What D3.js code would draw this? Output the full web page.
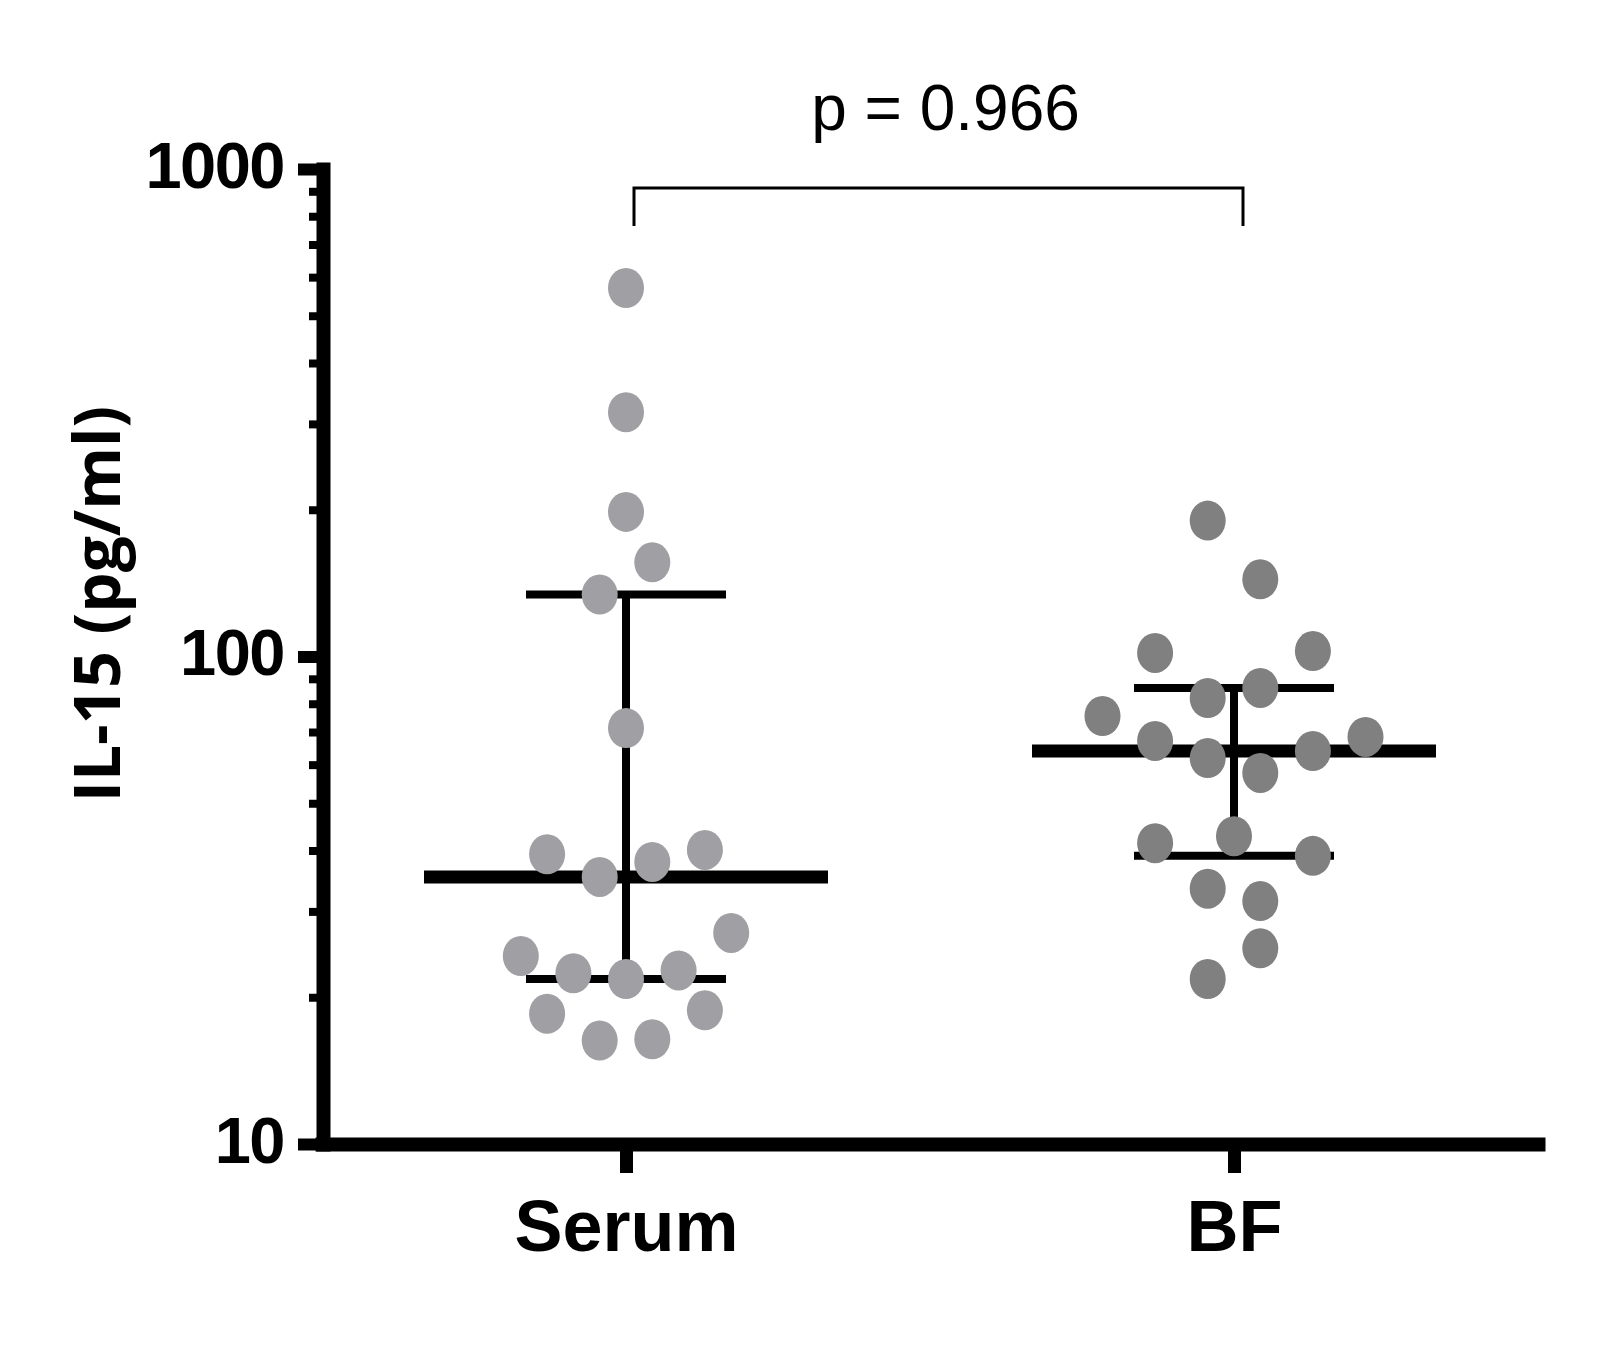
<!DOCTYPE html>
<html>
<head>
  <meta charset="utf-8">
  <title>IL-15 Serum vs BF</title>
  <script src="https://d3js.org/d3.v7.min.js"></script>
  <style>
    body {
      margin: 0;
      background: white;
    }

    svg {
      display: block;
      background: white;
    }

    .axis .domain {
      stroke: #000;
      stroke-width: 14;
      stroke-linecap: square;
    }

    .axis text {
      font-family: "Liberation Sans", Arial, sans-serif;
      font-weight: bold;
      fill: #000;
    }
  </style>
</head>
<body>

  <svg id="chart" width="1600" height="1364"></svg>

  <script>
    // values (pg/ml)
    const groups = ["Serum", "BF"];
    const serumValues = [570, 317, 198, 156, 134, 71.3, 40.1, 39.3, 37.9, 35.3,
                         27.1, 24.3, 22.7, 22.4, 21.8, 18.8, 18.5, 16.4, 16.3];
    const bfValues = [190, 144, 102.6, 101.7, 86.2, 82.2, 75.5, 68.4, 67.1, 64.0,
                      61.9, 57.7, 42.8, 41.4, 39.0, 33.4, 31.5, 25.2, 21.8];
    const groupValues = [serumValues, bfValues];
    const groupColors = ["#a0a0a4", "#808080"];
    const yTickValues = [10, 100, 1000];
    const yTitle = "IL-15 (pg/ml)";
    const pText = "p = 0.966";

    const svg = d3.select("#chart");

    const y = d3.scaleLog().domain([10, 1000]).range([1144, 169]);
    const x = d3.scalePoint().domain(groups).range([322, 1538]).padding(0.5);

    // quantile the way Prism does it: position (n+1)p
    function quant(sorted, p) {
      const h = (sorted.length + 1) * p - 1;
      const lo = Math.max(0, Math.min(sorted.length - 1, Math.floor(h)));
      const hi = Math.min(sorted.length - 1, lo + 1);
      return sorted[lo] + (h - lo) * (sorted[hi] - sorted[lo]);
    }

    // rows of nearby points, spread symmetrically round the centre;
    // even rows swap the side they start on from one row to the next
    const rowH = 60, slot = 26.3;
    function swarm(values, cx) {
      const pts = values.map(v => ({ v: v, y: y(v) })).sort((a, b) => a.v - b.v);
      const rows = [];
      let row = null;
      pts.forEach(p => {
        if (!row || row[0].y - p.y >= rowH) {
          row = [];
          rows.push(row);
        }
        row.push(p);
      });
      rows.forEach((r, ri) => {
        const odd = r.length % 2 === 1;
        const side = odd ? -1 : (ri % 2 ? 1 : -1);
        r.forEach((p, i) => {
          let k;
          if (odd) k = Math.ceil(i / 2) * 2 * (i % 2 ? side : -side);
          else k = (Math.floor(i / 2) * 2 + 1) * (i % 2 ? -side : side);
          p.x = cx + k * slot;
        });
      });
      return pts;
    }

    // y axis: major + minor ticks
    const yAxis = svg.append("g")
      .attr("class", "axis")
      .attr("transform", "translate(323,0)")
      .call(d3.axisLeft(y)
        .tickValues(yTickValues)
        .tickFormat(d3.format("d"))
        .tickSize(25)
        .tickPadding(14)
        .tickSizeOuter(0));
    yAxis.selectAll(".tick line").attr("stroke", "#000").attr("stroke-width", 12);
    yAxis.selectAll(".tick text")
      .attr("font-size", 65)
      .attr("letter-spacing", -1.5)
      .attr("dy", "0.28em");

    const yMinor = svg.append("g")
      .attr("transform", "translate(323,0)")
      .call(d3.axisLeft(y)
        .tickValues(y.ticks().filter(v => !yTickValues.includes(v)))
        .tickFormat("")
        .tickSize(14)
        .tickSizeOuter(0));
    yMinor.select(".domain").remove();
    yMinor.selectAll(".tick line").attr("stroke", "#000").attr("stroke-width", 8);

    // x axis
    const xAxis = svg.append("g")
      .attr("class", "axis")
      .attr("transform", "translate(0,1144)")
      .call(d3.axisBottom(x)
        .tickSize(29)
        .tickPadding(27)
        .tickSizeOuter(0));
    xAxis.selectAll(".tick line").attr("stroke", "#000").attr("stroke-width", 13);
    xAxis.selectAll(".tick text").attr("font-size", 72);

    // median + interquartile range
    const summary = groups.map((g, i) => {
      const s = groupValues[i].slice().sort(d3.ascending);
      return { group: g, q1: quant(s, 0.25), med: quant(s, 0.5), q3: quant(s, 0.75) };
    });

    const capHalf = 100, medHalf = 202;
    const bars = svg.append("g")
      .attr("stroke", "#000")
      .selectAll("g")
      .data(summary)
      .join("g");

    bars.append("line")
      .attr("x1", d => x(d.group))
      .attr("x2", d => x(d.group))
      .attr("y1", d => y(d.q1))
      .attr("y2", d => y(d.q3))
      .attr("stroke-width", 8);

    bars.selectAll(".cap")
      .data(d => [d.q1, d.q3].map(v => ({ group: d.group, v: v })))
      .join("line")
      .attr("class", "cap")
      .attr("x1", d => x(d.group) - capHalf)
      .attr("x2", d => x(d.group) + capHalf)
      .attr("y1", d => y(d.v))
      .attr("y2", d => y(d.v))
      .attr("stroke-width", 8);

    bars.append("line")
      .attr("x1", d => x(d.group) - medHalf)
      .attr("x2", d => x(d.group) + medHalf)
      .attr("y1", d => y(d.med))
      .attr("y2", d => y(d.med))
      .attr("stroke-width", 13);

    // points on top
    groups.forEach((g, i) => {
      svg.append("g")
        .selectAll("ellipse")
        .data(swarm(groupValues[i], x(g)))
        .join("ellipse")
        .attr("cx", d => d.x)
        .attr("cy", d => d.y)
        .attr("rx", 18)
        .attr("ry", 20)
        .attr("fill", groupColors[i]);
    });

    // significance bracket
    const bx0 = x(groups[0]) + 8, bx1 = x(groups[1]) + 9, by = 188;
    svg.append("path")
      .attr("d", `M${bx0},${by + 38}V${by}H${bx1}V${by + 38}`)
      .attr("fill", "none")
      .attr("stroke", "#000")
      .attr("stroke-width", 3);

    svg.append("text")
      .attr("x", (bx0 + bx1) / 2 + 7)
      .attr("y", 130)
      .attr("text-anchor", "middle")
      .attr("font-family", "'Liberation Sans', Arial, sans-serif")
      .attr("font-size", 64)
      .text(pText);

    // y title
    svg.append("text")
      .attr("transform", "translate(120,604) rotate(-90)")
      .attr("text-anchor", "middle")
      .attr("font-family", "'Open Sans', sans-serif")
      .attr("font-weight", "bold")
      .attr("font-size", 64)
      .text(yTitle);
  </script>

</body>
</html>
